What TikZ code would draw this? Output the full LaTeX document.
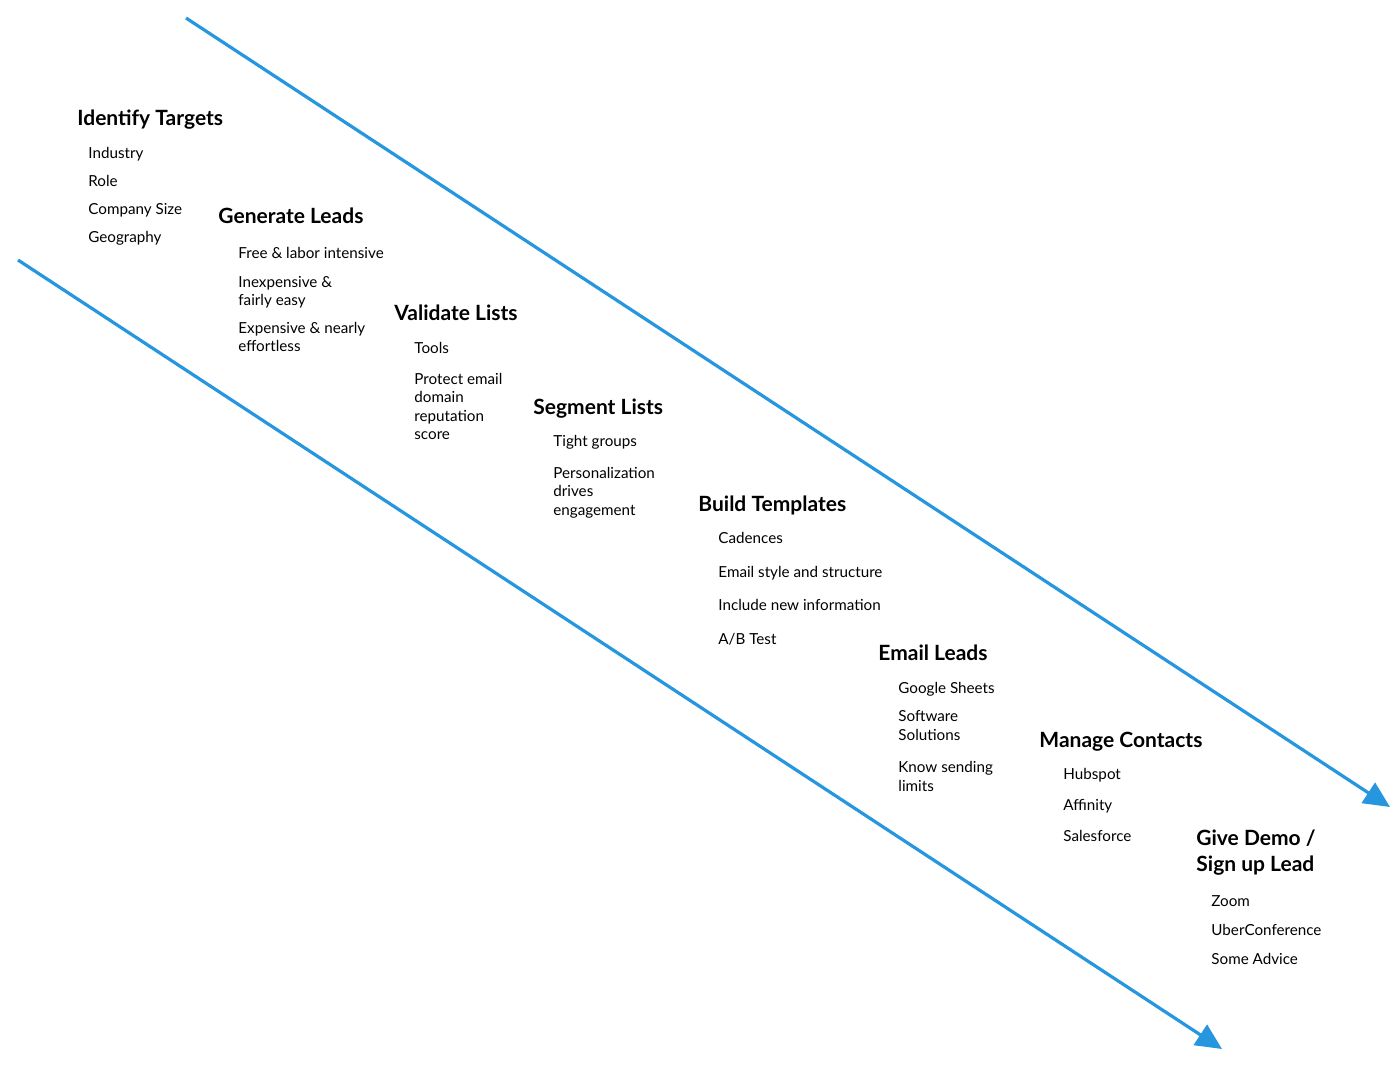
\documentclass[tikz,border=0pt]{standalone}
\usepackage{fontspec}
\setmainfont{Lato}
\usetikzlibrary{arrows.meta}
\begin{document}
\begin{tikzpicture}[x=0.5pt,y=-0.5pt,
 hd/.style={anchor=base west,inner sep=0pt,font=\fontsize{10.5}{12}\selectfont\bfseries},
 it/.style={anchor=base west,inner sep=0pt,font=\fontsize{7.6}{9}\selectfont},
 flow/.style={draw={rgb,255:red,38;green,150;blue,223},line width=1.6pt,-{Triangle[length=13pt,width=12pt]}}]
\useasboundingbox (0,0) rectangle (1400,1073);
\coordinate (a1) at (186,18); \coordinate (a2) at (1390,807);
\coordinate (b1) at (18,260); \coordinate (b2) at (1222,1049);
\draw[flow] (a1) -- (a2);
\draw[flow] (b1) -- (b2);
\node[hd] (h1) at (77,125) {Identify Targets};
\node[it] (i11) at (88,158) {Industry};
\node[it] (i12) at (88,186) {Role};
\node[it] (i13) at (88,214) {Company Size};
\node[it] (i14) at (88,242) {Geography};
\node[hd] (h2) at (218,223) {Generate Leads};
\node[it] (i21) at (238,258) {Free \& labor intensive};
\node[it] (i22) at (238,287) {Inexpensive \&};
\node[it] (i22b) at (238,305) {fairly easy};
\node[it] (i23) at (238,333) {Expensive \& nearly};
\node[it] (i23b) at (238,351) {effortless};
\node[hd] (h3) at (394,320) {Validate Lists};
\node[it] (i31) at (414,353) {Tools};
\node[it] (i32) at (414,384) {Protect email};
\node[it] (i32b) at (414,402) {domain};
\node[it] (i32c) at (414,421) {reputation};
\node[it] (i32d) at (414,439) {score};
\node[hd] (h4) at (533,414) {Segment Lists};
\node[it] (i41) at (553,446) {Tight groups};
\node[it] (i42) at (553,478) {Personalization};
\node[it] (i42b) at (553,496) {drives};
\node[it] (i42c) at (553,515) {engagement};
\node[hd] (h5) at (698,511) {Build Templates};
\node[it] (i51) at (718,543) {Cadences};
\node[it] (i52) at (718,577) {Email style and structure};
\node[it] (i53) at (718,610) {Include new information};
\node[it] (i54) at (718,644) {A/B Test};
\node[hd] (h6) at (878,660) {Email Leads};
\node[it] (i61) at (898,693) {Google Sheets};
\node[it] (i62) at (898,721) {Software};
\node[it] (i62b) at (898,740) {Solutions};
\node[it] (i63) at (898,772) {Know sending};
\node[it] (i63b) at (898,791) {limits};
\node[hd] (h7) at (1039,747) {Manage Contacts};
\node[it] (i71) at (1063,779) {Hubspot};
\node[it] (i72) at (1063,810) {Affinity};
\node[it] (i73) at (1063,841) {Salesforce};
\node[hd] (h8) at (1196,845) {Give Demo /};
\node[hd] (h8b) at (1196,871) {Sign up Lead};
\node[it] (i81) at (1211,906) {Zoom};
\node[it] (i82) at (1211,935) {UberConference};
\node[it] (i83) at (1211,964) {Some Advice};
\end{tikzpicture}
\end{document}
